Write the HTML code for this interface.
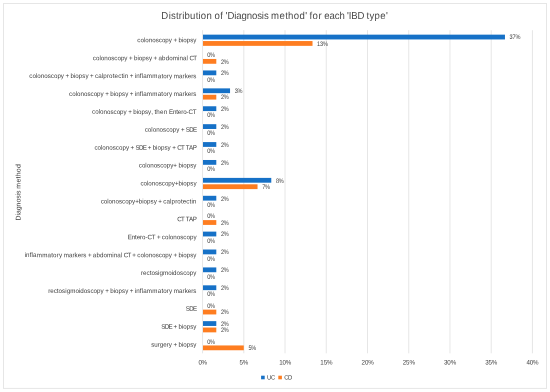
<!DOCTYPE html>
<html lang="en"><head><meta charset="utf-8"><title>Distribution of 'Diagnosis method' for each 'IBD type'</title>
<style>html,body{margin:0;padding:0;background:#fff;}body{width:550px;height:392px;overflow:hidden;}svg{display:block;}</style>
</head><body>
<svg width="550" height="392" viewBox="0 0 550 392" text-rendering="geometricPrecision" font-family="'Liberation Sans', Arial, sans-serif" fill="#3c3c3c">
<rect x="0" y="0" width="550" height="392" fill="#fff"/>
<rect x="3.5" y="3.5" width="543" height="384.9" fill="#fff" stroke="#E6E6E6" stroke-width="1"/>
<line x1="202.55" y1="30.20" x2="202.55" y2="353.30" stroke="#D9D9D9" stroke-width="0.65"/>
<line x1="243.79" y1="30.20" x2="243.79" y2="353.30" stroke="#D9D9D9" stroke-width="0.65"/>
<line x1="285.03" y1="30.20" x2="285.03" y2="353.30" stroke="#D9D9D9" stroke-width="0.65"/>
<line x1="326.26" y1="30.20" x2="326.26" y2="353.30" stroke="#D9D9D9" stroke-width="0.65"/>
<line x1="367.50" y1="30.20" x2="367.50" y2="353.30" stroke="#D9D9D9" stroke-width="0.65"/>
<line x1="408.74" y1="30.20" x2="408.74" y2="353.30" stroke="#D9D9D9" stroke-width="0.65"/>
<line x1="449.98" y1="30.20" x2="449.98" y2="353.30" stroke="#D9D9D9" stroke-width="0.65"/>
<line x1="491.21" y1="30.20" x2="491.21" y2="353.30" stroke="#D9D9D9" stroke-width="0.65"/>
<line x1="532.45" y1="30.20" x2="532.45" y2="353.30" stroke="#D9D9D9" stroke-width="0.65"/>
<text transform="translate(161.30 18.90) rotate(0.03) scale(0.9400 1)" font-size="10.20" x="0 7.8 10.2 15.6 18.6 22.19 24.59 30.6 36.6 39.6 42 48.01 54.01 56.55 62.77 65.88 68.42 70.32 77.53 79.75 85.3 90.85 96.41 101.96 106.95 109.17 114.16 116.69 125.78 131.85 134.88 140.94 147.01 153.07 155.16 157.69 160.84 167.16 170.93 173.47 179 184.54 189.52 195.05 197.59 199.47 202.2 208.77 215.88 218.42 221.46 226.93 233.02 239.11" fill="#484848">Distribution of 'Diagnosis method' for each 'IBD type'</text>
<text transform="translate(20.40 220.40) rotate(-89.97) scale(1.0000 1)" font-size="6.90" x="0 4.92 6.43 10.22 14.01 17.79 21.58 24.99 26.5 29.91 31.66 37.87 42.02 44.09 48.24 52.38">Diagnosis method</text>
<text transform="translate(137.30 42.25) rotate(0.03) scale(0.9500 1)" font-size="6.55" x="0 3.28 6.93 8.38 12.03 15.68 19.33 22.61 25.89 29.54 33.18 36.46 38.09 41.66 43.28 46.95 48.41 52.07 55.73 59.03">colonoscopy + biopsy</text>
<rect x="203.00" y="34.65" width="301.96" height="4.80" fill="#1671C7"/>
<text transform="translate(509.56 39.35) rotate(0.03) scale(0.8600 1)" font-size="6.50" x="0 3.41 6.81">37%</text>
<rect x="203.00" y="41.05" width="109.52" height="4.80" fill="#FE7D20"/>
<text transform="translate(317.12 45.75) rotate(0.03) scale(0.8600 1)" font-size="6.50" x="0 3.41 6.81">13%</text>
<text transform="translate(92.86 60.16) rotate(0.03) scale(0.9500 1)" font-size="6.55" x="0 3.28 6.93 8.38 12.03 15.68 19.33 22.61 25.89 29.54 33.18 36.46 38.09 41.66 43.28 46.95 48.41 52.07 55.73 59.03 62.32 63.94 67.52 69.14 72.88 76.61 80.35 84.09 89.69 91.18 94.92 98.65 100.15 101.77 105.74">colonoscopy + biopsy + abdominal CT</text>
<text transform="translate(207.15 57.26) rotate(0.03) scale(0.8600 1)" font-size="6.50" x="0 3.33">0%</text>
<rect x="203.00" y="58.96" width="13.30" height="4.80" fill="#FE7D20"/>
<text transform="translate(220.90 63.66) rotate(0.03) scale(0.8600 1)" font-size="6.50" x="0 3.33">2%</text>
<text transform="translate(29.33 78.06) rotate(0.03) scale(0.9500 1)" font-size="6.55" x="0 3.28 6.93 8.38 12.03 15.68 19.33 22.61 25.89 29.54 33.18 36.46 38.09 41.66 43.28 46.95 48.41 52.07 55.73 59.03 62.32 63.94 67.52 69.14 72.56 76.37 77.89 81.7 83.98 87.79 89.69 93.5 96.93 98.83 100.35 104.16 105.78 109.36 110.98 112.51 116.36 118.28 119.81 123.65 129.41 135.17 139.01 140.93 144.77 147.07 150.53 152.15 157.64 161.31 163.51 166.81 170.48 172.67">colonoscopy + biopsy + calprotectin + inflammatory markers</text>
<rect x="203.00" y="70.46" width="13.30" height="4.80" fill="#1671C7"/>
<text transform="translate(220.90 75.16) rotate(0.03) scale(0.8600 1)" font-size="6.50" x="0 3.33">2%</text>
<text transform="translate(207.15 81.56) rotate(0.03) scale(0.8600 1)" font-size="6.50" x="0 3.33">0%</text>
<text transform="translate(69.07 95.97) rotate(0.03) scale(0.9500 1)" font-size="6.55" x="0 3.28 6.93 8.38 12.03 15.68 19.33 22.61 25.89 29.54 33.18 36.46 38.09 41.66 43.28 46.95 48.41 52.07 55.73 59.03 62.32 63.94 67.52 69.14 70.67 74.52 76.44 77.97 81.81 87.57 93.33 97.17 99.09 102.93 105.23 108.69 110.31 115.8 119.47 121.67 124.97 128.64 130.83">colonoscopy + biopsy + inflammatory markers</text>
<rect x="203.00" y="88.37" width="27.04" height="4.80" fill="#1671C7"/>
<text transform="translate(234.64 93.07) rotate(0.03) scale(0.8600 1)" font-size="6.50" x="0 3.33">3%</text>
<rect x="203.00" y="94.77" width="13.30" height="4.80" fill="#FE7D20"/>
<text transform="translate(220.90 99.47) rotate(0.03) scale(0.8600 1)" font-size="6.50" x="0 3.33">2%</text>
<text transform="translate(92.06 113.87) rotate(0.03) scale(0.9500 1)" font-size="6.55" x="0 3.28 6.93 8.38 12.03 15.68 19.33 22.61 25.89 29.54 33.18 36.46 38.09 41.66 43.28 46.94 48.4 52.06 55.71 59 62.28 64.11 65.73 67.66 71.53 75.39 79.25 80.88 85.08 88.58 90.33 93.84 95.94 99.44 101.54 106.09">colonoscopy + biopsy, then Entero-CT</text>
<rect x="203.00" y="106.27" width="13.30" height="4.80" fill="#1671C7"/>
<text transform="translate(220.90 110.97) rotate(0.03) scale(0.8600 1)" font-size="6.50" x="0 3.33">2%</text>
<text transform="translate(207.15 117.37) rotate(0.03) scale(0.8600 1)" font-size="6.50" x="0 3.33">0%</text>
<text transform="translate(144.72 131.78) rotate(0.03) scale(0.9500 1)" font-size="6.55" x="0 3.28 6.93 8.38 12.03 15.68 19.33 22.61 25.89 29.54 33.18 36.46 38.09 41.66 43.28 46.92 50.86">colonoscopy + SDE</text>
<rect x="203.00" y="124.18" width="13.30" height="4.80" fill="#1671C7"/>
<text transform="translate(220.90 128.88) rotate(0.03) scale(0.8600 1)" font-size="6.50" x="0 3.33">2%</text>
<text transform="translate(207.15 135.28) rotate(0.03) scale(0.8600 1)" font-size="6.50" x="0 3.33">0%</text>
<text transform="translate(94.38 149.69) rotate(0.03) scale(0.9500 1)" font-size="6.55" x="0 3.28 6.93 8.38 12.03 15.68 19.33 22.61 25.89 29.54 33.18 36.46 38.09 41.66 43.28 46.92 50.86 54.5 56.13 59.7 61.33 64.99 66.45 70.11 73.78 77.07 80.36 81.98 85.56 87.18 91.15 94.51 96.13 99.7 103.6">colonoscopy + SDE + biopsy + CT TAP</text>
<rect x="203.00" y="142.09" width="13.30" height="4.80" fill="#1671C7"/>
<text transform="translate(220.90 146.79) rotate(0.03) scale(0.8600 1)" font-size="6.50" x="0 3.33">2%</text>
<text transform="translate(207.15 153.19) rotate(0.03) scale(0.8600 1)" font-size="6.50" x="0 3.33">0%</text>
<text transform="translate(138.84 167.59) rotate(0.03) scale(0.9500 1)" font-size="6.55" x="0 3.26 6.88 8.33 11.96 15.58 19.21 22.46 25.72 29.35 32.97 36.23 40.04 41.66 45.32 46.79 50.45 54.11 57.4">colonoscopy+ biopsy</text>
<rect x="203.00" y="159.99" width="13.30" height="4.80" fill="#1671C7"/>
<text transform="translate(220.90 164.69) rotate(0.03) scale(0.8600 1)" font-size="6.50" x="0 3.33">2%</text>
<text transform="translate(207.15 171.09) rotate(0.03) scale(0.8600 1)" font-size="6.50" x="0 3.33">0%</text>
<text transform="translate(140.38 185.50) rotate(0.03) scale(0.9500 1)" font-size="6.55" x="0 3.27 6.91 8.36 12 15.63 19.27 22.54 25.81 29.45 33.08 36.35 40.17 43.81 45.26 48.9 52.53 55.8">colonoscopy+biopsy</text>
<rect x="203.00" y="177.90" width="68.28" height="4.80" fill="#1671C7"/>
<text transform="translate(275.88 182.60) rotate(0.03) scale(0.8600 1)" font-size="6.50" x="0 3.33">8%</text>
<rect x="203.00" y="184.30" width="54.53" height="4.80" fill="#FE7D20"/>
<text transform="translate(262.13 189.00) rotate(0.03) scale(0.8600 1)" font-size="6.50" x="0 3.33">7%</text>
<text transform="translate(100.63 203.40) rotate(0.03) scale(0.9500 1)" font-size="6.55" x="0 3.27 6.91 8.36 12 15.63 19.27 22.54 25.81 29.45 33.08 36.35 40.17 43.81 45.26 48.9 52.53 55.8 59.07 60.7 64.27 65.89 69.32 73.13 74.65 78.46 80.74 84.54 86.45 90.26 93.68 95.58 97.1">colonoscopy+biopsy + calprotectin</text>
<rect x="203.00" y="195.80" width="13.30" height="4.80" fill="#1671C7"/>
<text transform="translate(220.90 200.50) rotate(0.03) scale(0.8600 1)" font-size="6.50" x="0 3.33">2%</text>
<text transform="translate(207.15 206.90) rotate(0.03) scale(0.8600 1)" font-size="6.50" x="0 3.33">0%</text>
<text transform="translate(177.21 221.31) rotate(0.03) scale(0.9500 1)" font-size="6.55" x="0 3.97 7.33 8.95 12.52 16.41">CT TAP</text>
<text transform="translate(207.15 218.41) rotate(0.03) scale(0.8600 1)" font-size="6.50" x="0 3.33">0%</text>
<rect x="203.00" y="220.11" width="13.30" height="4.80" fill="#FE7D20"/>
<text transform="translate(220.90 224.81) rotate(0.03) scale(0.8600 1)" font-size="6.50" x="0 3.33">2%</text>
<text transform="translate(127.77 239.22) rotate(0.03) scale(0.9500 1)" font-size="6.55" x="0 4.2 7.71 9.46 12.96 15.06 18.57 20.67 25.22 29.07 30.69 34.26 35.89 39.17 42.82 44.27 47.92 51.57 55.22 58.5 61.78 65.42 69.07">Entero-CT + colonoscopy</text>
<rect x="203.00" y="231.62" width="13.30" height="4.80" fill="#1671C7"/>
<text transform="translate(220.90 236.32) rotate(0.03) scale(0.8600 1)" font-size="6.50" x="0 3.33">2%</text>
<text transform="translate(207.15 242.72) rotate(0.03) scale(0.8600 1)" font-size="6.50" x="0 3.33">0%</text>
<text transform="translate(24.63 257.12) rotate(0.03) scale(0.9500 1)" font-size="6.55" x="0 1.54 5.38 7.3 8.83 12.68 18.43 24.19 28.03 29.95 33.79 36.09 39.55 41.17 46.67 50.33 52.53 55.83 59.5 61.69 64.99 66.62 70.19 71.81 75.55 79.29 83.03 86.76 92.36 93.85 97.59 101.33 102.82 104.45 108.41 111.77 113.39 116.97 118.59 121.87 125.52 126.98 130.63 134.27 137.92 141.2 144.48 148.13 151.78 155.06 156.68 160.25 161.88 165.54 167 170.66 174.33 177.62">inflammatory markers + abdominal CT + colonoscopy + biopsy</text>
<rect x="203.00" y="249.52" width="13.30" height="4.80" fill="#1671C7"/>
<text transform="translate(220.90 254.22) rotate(0.03) scale(0.8600 1)" font-size="6.50" x="0 3.33">2%</text>
<text transform="translate(207.15 260.62) rotate(0.03) scale(0.8600 1)" font-size="6.50" x="0 3.33">0%</text>
<text transform="translate(140.91 275.03) rotate(0.03) scale(0.9500 1)" font-size="6.55" x="0 2.2 5.89 9.2 11.04 14.72 18.03 19.5 23.18 28.7 32.38 33.85 37.53 41.22 44.53 47.84 51.52 55.2">rectosigmoidoscopy</text>
<rect x="203.00" y="267.43" width="13.30" height="4.80" fill="#1671C7"/>
<text transform="translate(220.90 272.13) rotate(0.03) scale(0.8600 1)" font-size="6.50" x="0 3.33">2%</text>
<text transform="translate(207.15 278.53) rotate(0.03) scale(0.8600 1)" font-size="6.50" x="0 3.33">0%</text>
<text transform="translate(48.13 292.93) rotate(0.03) scale(0.9500 1)" font-size="6.55" x="0 2.2 5.89 9.2 11.04 14.72 18.03 19.5 23.18 28.7 32.38 33.85 37.53 41.22 44.53 47.84 51.52 55.2 58.51 60.13 63.71 65.33 68.99 70.46 74.12 77.78 81.07 84.37 85.99 89.57 91.19 92.72 96.57 98.49 100.02 103.86 109.62 115.37 119.22 121.14 124.98 127.28 130.74 132.36 137.85 141.52 143.72 147.02 150.69 152.88">rectosigmoidoscopy + biopsy + inflammatory markers</text>
<rect x="203.00" y="285.33" width="13.30" height="4.80" fill="#1671C7"/>
<text transform="translate(220.90 290.03) rotate(0.03) scale(0.8600 1)" font-size="6.50" x="0 3.33">2%</text>
<text transform="translate(207.15 296.43) rotate(0.03) scale(0.8600 1)" font-size="6.50" x="0 3.33">0%</text>
<text transform="translate(185.84 310.84) rotate(0.03) scale(0.9500 1)" font-size="6.55" x="0 3.64 7.58">SDE</text>
<text transform="translate(207.15 307.94) rotate(0.03) scale(0.8600 1)" font-size="6.50" x="0 3.33">0%</text>
<rect x="203.00" y="309.64" width="13.30" height="4.80" fill="#FE7D20"/>
<text transform="translate(220.90 314.34) rotate(0.03) scale(0.8600 1)" font-size="6.50" x="0 3.33">2%</text>
<text transform="translate(161.28 328.75) rotate(0.03) scale(0.9500 1)" font-size="6.55" x="0 3.64 7.58 11.22 12.84 16.42 18.04 21.7 23.17 26.83 30.49 33.78">SDE + biopsy</text>
<rect x="203.00" y="321.15" width="13.30" height="4.80" fill="#1671C7"/>
<text transform="translate(220.90 325.85) rotate(0.03) scale(0.8600 1)" font-size="6.50" x="0 3.33">2%</text>
<rect x="203.00" y="327.55" width="13.30" height="4.80" fill="#FE7D20"/>
<text transform="translate(220.90 332.25) rotate(0.03) scale(0.8600 1)" font-size="6.50" x="0 3.33">2%</text>
<text transform="translate(151.24 346.65) rotate(0.03) scale(0.9500 1)" font-size="6.55" x="0 3.27 6.9 9.08 12.71 16.34 18.52 21.79 23.41 26.98 28.61 32.27 33.73 37.39 41.06 44.35">surgery + biopsy</text>
<text transform="translate(207.15 343.75) rotate(0.03) scale(0.8600 1)" font-size="6.50" x="0 3.33">0%</text>
<rect x="203.00" y="345.45" width="40.79" height="4.80" fill="#FE7D20"/>
<text transform="translate(248.39 350.15) rotate(0.03) scale(0.8600 1)" font-size="6.50" x="0 3.33">5%</text>
<text transform="translate(198.38 364.40) rotate(0.03) scale(0.9500 1)" font-size="6.55" x="0 3.37">0%</text>
<text transform="translate(239.62 364.40) rotate(0.03) scale(0.9500 1)" font-size="6.55" x="0 3.37">5%</text>
<text transform="translate(279.13 364.40) rotate(0.03) scale(0.9500 1)" font-size="6.55" x="0 3.45 6.9">10%</text>
<text transform="translate(320.37 364.40) rotate(0.03) scale(0.9500 1)" font-size="6.55" x="0 3.45 6.9">15%</text>
<text transform="translate(361.61 364.40) rotate(0.03) scale(0.9500 1)" font-size="6.55" x="0 3.45 6.9">20%</text>
<text transform="translate(402.84 364.40) rotate(0.03) scale(0.9500 1)" font-size="6.55" x="0 3.45 6.9">25%</text>
<text transform="translate(444.08 364.40) rotate(0.03) scale(0.9500 1)" font-size="6.55" x="0 3.45 6.9">30%</text>
<text transform="translate(485.32 364.40) rotate(0.03) scale(0.9500 1)" font-size="6.55" x="0 3.45 6.9">35%</text>
<text transform="translate(526.56 364.40) rotate(0.03) scale(0.9500 1)" font-size="6.55" x="0 3.45 6.9">40%</text>
<rect x="261.1" y="375.7" width="3.6" height="3.6" fill="#1671C7"/>
<text transform="translate(267.10 379.60) rotate(0.03) scale(0.9500 1)" font-size="6.20" x="0 4.22">UC</text>
<rect x="278.3" y="375.7" width="3.6" height="3.6" fill="#FE7D20"/>
<text transform="translate(284.20 379.60) rotate(0.03) scale(0.9500 1)" font-size="6.20" x="0 4.12">CD</text>
</svg>
</body></html>
